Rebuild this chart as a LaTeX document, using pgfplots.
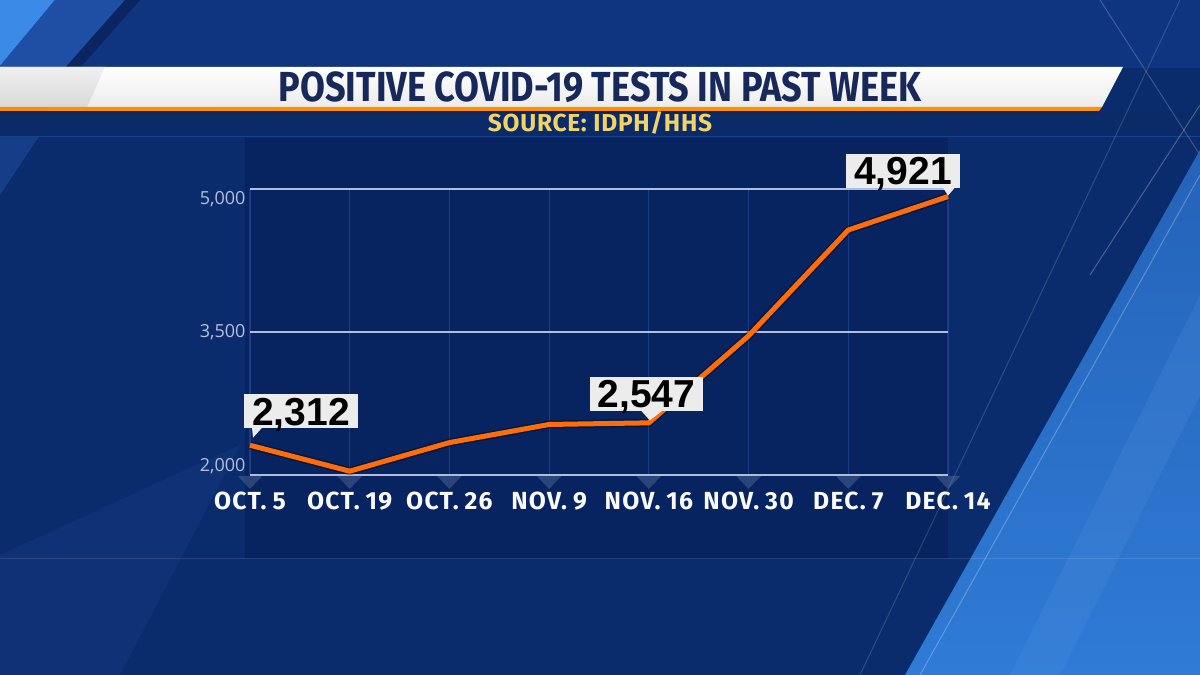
\documentclass[border=0pt]{standalone}
\usepackage{pgfplots}
\pgfplotsset{compat=1.18}
\usepackage{fontspec}
\setmainfont{Fira Sans}
\newfontfamily\titlefont[FakeStretch=0.86]{Fira Sans}
\newfontfamily\srcfont[LetterSpace=3]{Fira Sans}
\newfontfamily\xfont[LetterSpace=5]{Fira Sans}
\newfontfamily\yfont{Open Sans}
\newfontfamily\numfont{Liberation Sans}
\definecolor{bgbase}{HTML}{0B2C6C}
\definecolor{bgtop}{HTML}{0F3580}
\definecolor{bgpanel}{HTML}{072461}
\definecolor{lightblue}{HTML}{3B8AE8}
\definecolor{midblue}{HTML}{1F4FA5}
\definecolor{darkstripe}{HTML}{0A2560}
\definecolor{brblue}{HTML}{2463B8}
\definecolor{brblue2}{HTML}{2F7BD6}
\definecolor{bandcol}{HTML}{0A2A68}
\definecolor{titlecol}{HTML}{17295A}
\definecolor{sourcecol}{HTML}{F2D36A}
\definecolor{gridh}{HTML}{B0BEDC}
\definecolor{gridv}{HTML}{1B3D85}
\definecolor{ylab}{HTML}{B4C0DC}
\definecolor{orangeline}{HTML}{FF6C0A}
\definecolor{labfill}{HTML}{ECECEC}
\definecolor{tri}{HTML}{7080A8}
\pgfdeclareplotmark{dtri}{%
  \pgfpathmoveto{\pgfpoint{-12.5pt}{0pt}}%
  \pgfpathlineto{\pgfpoint{12.5pt}{0pt}}%
  \pgfpathlineto{\pgfpoint{0pt}{-13pt}}%
  \pgfpathclose\pgfusepathqfill}
\begin{document}
\begin{tikzpicture}[x=1pt,y=1pt]
\useasboundingbox (0,0) rectangle (1200,675);
% background
\fill[bgbase] (0,0) rectangle (1200,675);
\fill[bgtop] (0,607) rectangle (1200,675);
\fill[lightblue] (0,675) -- (55,675) -- (0,609) -- cycle;
\fill[midblue] (55,675) -- (125,675) -- (65,607) -- (0,607) -- (0,609) -- cycle;
\fill[darkstripe] (125,675) -- (140,675) -- (80,607) -- (65,607) -- cycle;
\fill[midblue!50!bgbase] (0,540) -- (40,540) -- (0,480) -- cycle;
\fill[midblue!18!bgbase] (0,0) -- (120,0) -- (240,230) -- (0,120) -- cycle;
\fill[bgpanel] (245,117) rectangle (948,537);
\fill[bandcol] (0,538) rectangle (1200,564);
\draw[color=midblue!60!bgbase, line width=1pt] (0,538) -- (1200,538);
\draw[color=white, opacity=0.25, line width=1pt] (1200,570) -- (1090,400);
\draw[color=white, opacity=0.2, line width=1pt] (1100,675) -- (1200,520);
\shade[top color=brblue, bottom color=brblue2] (1200,525) -- (905,0) -- (1200,0) -- cycle;
\fill[brblue2!80!white, opacity=0.2] (1200,380) -- (1010,0) -- (1060,0) -- (1200,280) -- cycle;
\draw[color=white, opacity=0.25, line width=1pt] (1200,500) -- (920,0);
\draw[color=white, opacity=0.15, line width=1pt] (1180,675) -- (860,0);
\draw[color=white, opacity=0.10, line width=0.8pt] (0,117) -- (1200,117);
% banner
\shade[top color=white, bottom color=white!85!gray] (0,608) -- (1123,608) -- (1102,568) -- (0,568) -- cycle;
\shade[top color=white!88!gray, bottom color=white!70!gray] (0,608) -- (105,608) -- (87,568) -- (0,568) -- cycle;
\shade[left color=orange!90!yellow, middle color=yellow!65!orange, right color=orange!85!yellow] (0,568) -- (1102,568) -- (1099,564) -- (0,564) -- cycle;
\fill[darkstripe] (0,564) rectangle (1099,562);
\node[anchor=base, text=titlecol, font=\titlefont\bfseries\fontsize{42}{42}\selectfont, inner sep=0pt] at (600,573) {POSITIVE COVID-19 TESTS IN PAST WEEK};
\node[anchor=base, text=sourcecol, font=\srcfont\bfseries\fontsize{24.5}{25}\selectfont, inner sep=0pt] at (600,543) {SOURCE: IDPH/HHS};
\begin{axis}[
  at={(250pt,200pt)}, anchor=south west,
  width=698pt, height=286pt, scale only axis,
  xmin=0, xmax=7, ymin=2000, ymax=5000,
  clip=false,
  axis line style={draw=none},
  major tick length=0pt,
  xtick={0,...,7},
  xticklabels={OCT.\kern6pt5, OCT.\kern6pt19, OCT.\kern6pt26, NOV.\kern6pt9, NOV.\kern6pt16, NOV.\kern6pt30, DEC.\kern6pt7, DEC.\kern6pt14},
  ytick={2000,3500,5000},
  yticklabels={,,},
  extra y ticks={2089,3500,4895},
  extra y tick labels={{2,000},{3,500},{5,000}},
  extra y tick style={grid=none},
  ymajorgrids, xmajorgrids,
  y grid style={color=gridh, line width=1.6pt},
  x grid style={color=gridv, line width=1.2pt},
  xticklabel style={font=\xfont\bfseries\fontsize{24.7}{25}\selectfont, text=white!96!gray, yshift=-13pt},
  yticklabel style={font=\yfont\fontsize{18}{18}\selectfont, text=ylab, xshift=-1pt},
  /pgf/number format/assume math mode=true,
]
\addplot[only marks, mark=dtri, mark options={fill=tri, draw=none, opacity=0.35}] coordinates {(0,1990) (1,1990) (2,1990) (3,1990) (4,1990) (5,1990) (6,1990) (7,1990)};
\addplot[color=black, line width=8pt, opacity=0.35] coordinates {(0,2312) (1,2040) (2,2340) (3,2530) (4,2547) (5,3460) (6,4570) (7,4921)};
\addplot[color=orangeline, line width=5pt] coordinates {(0,2312) (1,2040) (2,2340) (3,2530) (4,2547) (5,3460) (6,4570) (7,4921)};
% callouts
\tikzset{vlab/.style={fill=labfill, text=black, font=\numfont\bfseries\fontsize{39}{39}\selectfont, inner xsep=8pt, inner ysep=3pt, text height=28pt, text depth=0pt}}
\node[vlab, anchor=south west, xshift=-6pt, yshift=17pt] at (axis cs:0,2312) {2,312};
\fill[labfill] (axis cs:0,2312) ++(2pt,17.5pt) -- ++(10pt,0pt) -- ++(-9pt,-10pt) -- cycle;
\node[vlab, anchor=south, xshift=-2.5pt, yshift=12pt] at (axis cs:4,2547) {2,547};
\fill[labfill] (axis cs:4,2547) ++(-8pt,12.5pt) -- ++(22pt,0pt) -- ++(-13pt,-10pt) -- cycle;
\node[vlab, anchor=south east, xshift=12pt, yshift=8.5pt] at (axis cs:7,4921) {4,921};
\fill[labfill] (axis cs:7,4921) ++(-5pt,9pt) -- ++(12pt,0pt) -- ++(-7pt,-8pt) -- cycle;
\end{axis}
\end{tikzpicture}
\end{document}
